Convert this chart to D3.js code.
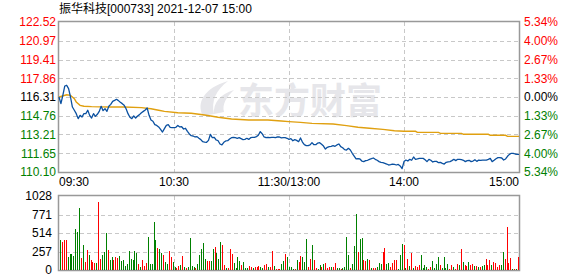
<!DOCTYPE html>
<html>
<head>
<meta charset="utf-8">
<script src="https://cdn.jsdelivr.net/npm/d3@7"></script>
<style>
  body { margin: 0; background: #fff; }
  svg { display: block; }
  text { font-family: "Liberation Sans", Arial, sans-serif; font-size: 12px; }
</style>
</head>
<body>
<div id="chart"></div>
<script>
// 基本数据
const stockName = "振华科技";
const stockCode = "[000733] 2021-12-07 15:00";
const prevClose = 116.31;

const timeLabels = ["09:30", "10:30", "11:30/13:00", "14:00", "15:00"];
const timeTickIdx = [0, 60, 120, 180, 240];

const priceTicks = [122.52, 120.97, 119.41, 117.86, 116.31, 114.76, 113.21, 111.65, 110.10];
const pctTicks = ["5.34%", "4.00%", "2.67%", "1.33%", "0.00%", "1.33%", "2.67%", "4.00%", "5.34%"];
const volTicks = [1028, 771, 514, 257, 0];

// 分时价格 (每分钟, 241 个)
const prices = [
  116.31,115.76,116.45,117.22,117.28,117.00,116.31,115.48,115.21,114.93,
  114.52,114.79,114.65,114.93,114.93,115.21,114.79,114.57,114.93,114.71,
  114.88,115.12,115.54,115.18,115.34,115.12,115.54,115.70,115.95,116.03,
  116.12,116.01,115.87,115.76,115.62,115.34,114.93,114.63,114.52,114.74,
  114.57,114.74,114.85,115.01,115.12,115.23,115.40,114.79,114.41,114.30,
  114.02,113.96,113.83,113.63,113.41,113.69,113.96,114.02,113.80,113.77,
  113.77,113.80,113.96,
  113.83,113.85,113.66,113.72,113.47,113.25,113.11,113.08,113.00,113.03,
  112.89,112.78,112.61,112.58,112.56,112.72,113.22,112.94,112.97,112.75,
  112.69,112.42,112.34,112.56,112.67,112.69,112.83,112.94,112.97,112.94,
  112.89,112.94,112.86,112.78,112.80,112.89,112.80,112.94,112.97,112.97,
  113.03,113.14,113.44,113.27,113.00,112.94,112.97,112.94,112.97,112.97,
  112.94,113.00,113.00,112.92,112.94,112.94,112.89,112.80,
  112.86,112.69,112.78,112.72,112.61,112.92,112.58,112.36,112.28,112.28,
  112.34,112.53,112.36,112.36,112.50,112.53,112.39,112.25,112.00,112.14,
  112.20,112.23,112.28,112.23,112.34,112.42,112.20,112.11,111.95,111.92,
  112.06,111.92,111.65,111.42,111.18,111.20,111.18,111.01,110.96,111.04,
  111.07,111.15,111.20,111.26,111.15,111.07,110.96,110.90,110.87,110.82,
  110.76,110.68,110.71,110.76,110.73,110.68,110.73,110.60,110.38,110.96,
  111.09,111.01,111.15,111.07,111.34,111.15,111.18,111.23,111.23,111.23,
  111.12,110.96,111.15,111.07,110.93,110.98,110.98,110.87,110.90,110.82,
  110.76,110.90,110.93,110.96,111.04,111.15,111.04,111.15,111.15,111.12,
  111.07,110.96,111.04,111.07,110.96,111.01,111.12,110.98,111.09,111.07,
  111.09,111.09,111.09,111.15,111.23,110.96,111.07,111.20,111.29,111.29,
  111.26,111.09,111.18,111.40,111.56,111.65,111.65,111.59,111.56,111.56
];

// 均价线 (读图得到的关键点)
const avgIdx = [0,4,6,8,9,11,13,17,26,34,43,48,52,55,62,69,76,83,90,99,109,116,120,126,132,143,150,156,162,169,175,180,186,187,198,199,210,211,224,225,233,234,240];
const avgVals = [116.31,116.50,116.45,116.17,115.90,115.62,115.54,115.51,115.48,115.48,115.43,115.34,115.21,115.12,115.01,114.96,114.82,114.63,114.49,114.41,114.41,114.32,114.27,114.21,114.13,114.07,113.94,113.80,113.72,113.63,113.52,113.47,113.47,113.38,113.38,113.30,113.30,113.22,113.22,113.14,113.14,113.05,113.05];

// 成交量 (手)
const volumes = [
  417,389,417,417,176,222,222,194,569,523,
  861,167,347,107,278,208,139,116,102,102,
  944,153,208,255,519,278,134,185,139,176,
  167,194,125,139,56,83,269,148,134,269,
  231,83,37,139,56,93,454,83,83,667,
  417,301,287,241,208,107,79,264,185,107,
  37,23,56,69,194,46,23,46,445,56,
  37,23,83,208,292,380,153,125,125,125,
  292,315,231,153,389,347,69,23,32,292,
  222,97,23,176,130,69,116,23,23,56,
  37,23,46,37,56,37,23,69,83,37,
  37,264,56,19,19,19,83,120,222,176,
  37,37,19,19,139,116,194,176,116,426,
  37,153,347,139,23,15,69,37,83,102,
  23,37,37,46,102,23,23,15,23,37,
  458,208,23,83,333,778,255,431,449,139,
  125,148,139,23,32,32,37,102,83,255,
  301,83,102,37,93,139,139,9,208,361,
  347,23,153,56,236,23,56,37,69,208,
  23,69,37,14,37,130,23,83,176,69,
  23,176,23,83,19,69,37,19,83,69,
  287,111,69,56,111,69,83,56,60,37,
  37,56,69,153,69,139,69,111,97,37,
  69,69,250,153,597,97,167,9,8,8,
  181
];
// 1 = 红(上涨), -1 = 绿(下跌)
const volDir = [
  -1,1,1,1,-1,-1,-1,-1,-1,-1,
  -1,1,-1,1,1,-1,1,1,1,-1,
  1,1,-1,-1,-1,1,-1,-1,1,1,
  1,-1,-1,-1,-1,-1,-1,-1,-1,-1,
  -1,1,-1,1,1,1,-1,-1,-1,-1,
  -1,1,-1,-1,1,-1,-1,1,1,-1,
  -1,1,1,-1,1,-1,1,-1,-1,-1,
  -1,1,-1,-1,-1,-1,-1,1,1,-1,
  -1,1,-1,-1,-1,1,1,-1,1,1,
  1,-1,-1,-1,-1,1,-1,-1,-1,1,
  1,-1,1,1,1,-1,-1,1,1,-1,
  1,1,-1,1,1,1,-1,-1,1,-1,
  -1,-1,-1,1,-1,1,1,-1,-1,-1,
  1,1,-1,1,1,-1,-1,1,-1,1,
  1,1,-1,1,1,-1,-1,1,-1,-1,
  -1,-1,1,-1,-1,-1,1,-1,-1,1,
  1,-1,1,-1,1,1,-1,-1,-1,1,
  1,-1,-1,1,1,1,1,-1,-1,-1,
  1,-1,1,-1,1,-1,1,1,1,-1,
  -1,-1,-1,1,1,-1,-1,-1,-1,1,
  -1,-1,-1,-1,1,1,-1,1,1,-1,
  1,-1,1,1,-1,1,1,-1,1,-1,
  1,-1,-1,1,1,1,-1,1,1,1,
  1,-1,-1,1,1,1,1,-1,1,-1,
  1
];

(function () {
  const W = 578, H = 276;
  const left = 59, right = 519;
  const mainTop = 22, mainBottom = 172;
  const volTop = 196, volBottom = 270;

  const RED = "#ff0000", GREEN = "#008000", DARK = "#000000";
  const GRID = "#c8c8c8", BORDER = "#999999";

  const svg = d3.select("#chart").append("svg")
    .attr("width", W).attr("height", H);

  const x = d3.scaleLinear().domain([0, 240]).range([left, right]);
  const xBar = d3.scaleLinear().domain([0, 240]).range([left + 1, right - 1]);
  const y = d3.scaleLinear().domain([priceTicks[priceTicks.length - 1], priceTicks[0]]).range([mainBottom, mainTop]);
  const yVol = d3.scaleLinear().domain([0, volTicks[0]]).range([volBottom, volTop]);

  const tickColor = v => v > prevClose ? RED : (v < prevClose ? GREEN : DARK);

  // 水印
  const wm = svg.append("g").attr("fill", "#e6e6ea");
  wm.append("path")
    .attr("d", "M203,116 C196,103 204,88 228,81 C216,90 211,101 214,114 Z M214,114 C213,103 220,94 234,90 C226,97 222,105 224,112 Z");
  wm.append("text")
    .attr("x", 238).attr("y", 114)
    .style("font-family", "'Noto Sans CJK SC', sans-serif")
    .style("font-size", "36px").style("font-weight", "bold")
    .text("东方财富");

  // 网格线
  const grid = svg.append("g")
    .attr("stroke", GRID).attr("stroke-dasharray", "4,3")
    .attr("shape-rendering", "crispEdges");
  grid.selectAll(".hgrid").data(priceTicks.slice(1, -1)).enter().append("line")
    .attr("x1", left).attr("x2", right)
    .attr("y1", d => Math.round(y(d)) + 0.5).attr("y2", d => Math.round(y(d)) + 0.5);
  grid.selectAll(".vgrid").data(timeTickIdx.slice(1, -1)).enter().append("line")
    .attr("x1", d => Math.round(x(d)) + 0.5).attr("x2", d => Math.round(x(d)) + 0.5)
    .attr("y1", mainTop).attr("y2", mainBottom);
  grid.selectAll(".hvgrid").data(volTicks.slice(1, -1)).enter().append("line")
    .attr("x1", left).attr("x2", right)
    .attr("y1", d => Math.round(yVol(d)) + 0.5).attr("y2", d => Math.round(yVol(d)) + 0.5);
  grid.selectAll(".vvgrid").data(timeTickIdx.slice(1, -1)).enter().append("line")
    .attr("x1", d => Math.round(x(d)) + 0.5).attr("x2", d => Math.round(x(d)) + 0.5)
    .attr("y1", volTop).attr("y2", volBottom);

  // 边框
  svg.append("rect")
    .attr("x", left - 0.5).attr("y", mainTop - 0.5)
    .attr("width", right - left + 1).attr("height", mainBottom - mainTop + 1)
    .attr("fill", "none").attr("stroke", BORDER).attr("stroke-width", 1.5);
  svg.append("rect")
    .attr("x", left - 0.5).attr("y", volTop - 0.5)
    .attr("width", right - left + 1).attr("height", volBottom - volTop + 1)
    .attr("fill", "none").attr("stroke", BORDER).attr("stroke-width", 1.5);

  // 均价线
  const avgData = avgIdx.map((d, i) => [d, avgVals[i]]);
  svg.append("path")
    .datum(avgData)
    .attr("fill", "none").attr("stroke", "#e0a010").attr("stroke-width", 1.4)
    .attr("d", d3.line().x(d => x(d[0])).y(d => y(d[1])));

  // 价格线
  svg.append("path")
    .datum(prices)
    .attr("fill", "none").attr("stroke", "#0a50a0").attr("stroke-width", 1.3)
    .attr("stroke-linejoin", "round")
    .attr("d", d3.line().x((d, i) => x(i)).y(d => y(d)));

  // 成交量柱
  svg.append("g").attr("shape-rendering", "crispEdges")
    .selectAll("rect").data(volumes).enter().append("rect")
    .attr("x", (d, i) => Math.round(xBar(i)))
    .attr("y", d => Math.round(yVol(d)))
    .attr("width", 1)
    .attr("height", d => volBottom - Math.round(yVol(d)))
    .attr("fill", (d, i) => volDir[i] > 0 ? RED : GREEN);

  // 左侧价格刻度
  svg.append("g").selectAll("text").data(priceTicks).enter().append("text")
    .attr("x", 56).attr("y", d => y(d)).attr("dy", "0.36em")
    .attr("text-anchor", "end")
    .attr("fill", d => tickColor(d))
    .text(d => d.toFixed(2));

  // 右侧涨跌幅刻度
  svg.append("g").selectAll("text").data(priceTicks).enter().append("text")
    .attr("x", 524).attr("y", d => y(d)).attr("dy", "0.36em")
    .attr("text-anchor", "start")
    .attr("fill", d => tickColor(d))
    .text((d, i) => pctTicks[i]);

  // 成交量刻度
  svg.append("g").selectAll("text").data(volTicks).enter().append("text")
    .attr("x", 52).attr("y", d => yVol(d)).attr("dy", "0.36em")
    .attr("text-anchor", "end")
    .attr("fill", DARK)
    .text(d => d);

  // 时间刻度
  svg.append("g").selectAll("text").data(timeTickIdx).enter().append("text")
    .attr("x", d => x(d)).attr("y", 186)
    .attr("text-anchor", (d, i) => i === 0 ? "start" : (i === timeTickIdx.length - 1 ? "end" : "middle"))
    .attr("fill", DARK)
    .text((d, i) => timeLabels[i]);

  // 标题
  const title = svg.append("text").attr("x", 59).attr("y", 13).attr("fill", DARK);
  title.append("tspan")
    .style("font-family", "'Noto Sans CJK SC', sans-serif")
    .text(stockName);
  title.append("tspan").text(stockCode);
})();
</script>
</body>
</html>
